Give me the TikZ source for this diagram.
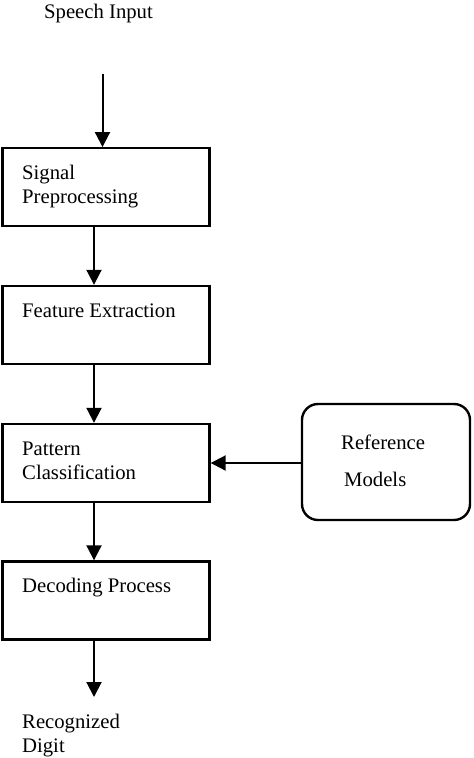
\documentclass[tikz,border=0pt]{standalone}
\usepackage{fontspec}
\setmainfont{Liberation Serif}
\usetikzlibrary{arrows.meta}
\begin{document}
\begin{tikzpicture}[x=1pt,y=-1pt,
  txt/.style={anchor=base west,inner sep=0pt,font=\fontsize{20.7}{24}\selectfont},
  blk/.style={draw,line width=2.4pt,inner sep=0pt,minimum width=207pt,minimum height=78pt},
  refblk/.style={draw,line width=2.4pt,inner sep=0pt,rounded corners=16pt,minimum width=168pt,minimum height=116pt},
  arr/.style={line width=2pt,-{Triangle[width=15pt,length=15pt]}}]
\useasboundingbox (0,0) rectangle (474,758);
% boxes
\node[blk] (sig) at (106,187.25) {};
\node[blk] (fe) at (106,325) {};
\node[blk] (pc) at (106,463) {};
\node[blk] (dp) at (106,600.5) {};
\node[refblk] (rm) at (386,462) {};
% texts
\node[txt] (speech) at (44,18) {Speech Input};
\node[txt] (sig1) at (22,179) {Signal};
\node[txt] (sig2) at (22,203) {Preprocessing};
\node[txt] (fet) at (22,317) {Feature Extraction};
\node[txt] (pc1) at (22,455) {Pattern};
\node[txt] (pc2) at (22,479) {Classification};
\node[txt] (dpt) at (22,592) {Decoding Process};
\node[txt] (rm1) at (341,449) {Reference};
\node[txt] (rm2) at (344,486) {Models};
\node[txt] (rd1) at (22,728) {Recognized};
\node[txt] (rd2) at (22,752) {Digit};
% connectors
\coordinate (a0) at (102.5,74);
\coordinate (xcol) at (94,0);
\coordinate (e1) at (94,697);
\draw[arr] (a0) -- (a0 |- sig.north);
\draw[arr] (xcol |- sig.south) -- (xcol |- fe.north);
\draw[arr] (xcol |- fe.south) -- (xcol |- pc.north);
\draw[arr] (xcol |- pc.south) -- (xcol |- dp.north);
\draw[arr] (xcol |- dp.south) -- (e1);
\draw[arr] (rm.west |- pc.east) -- (pc.east);
\end{tikzpicture}
\end{document}
